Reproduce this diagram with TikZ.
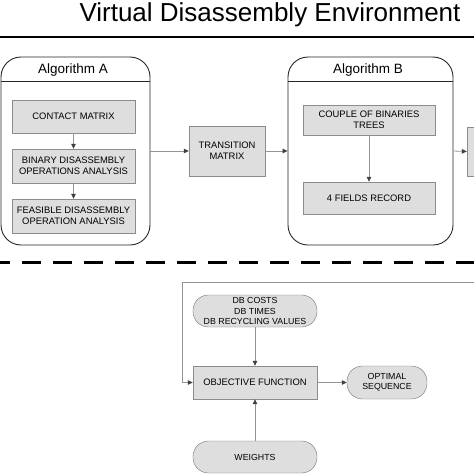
\documentclass[tikz,border=0pt]{standalone}
\usepackage{fontspec}
\setmainfont{Liberation Sans}
\usetikzlibrary{arrows.meta,positioning}

\begin{document}
\begin{tikzpicture}[
  x=1pt,y=-1pt,
  >={Triangle[length=5pt,width=4.5pt,color=black!75]},
  box/.style={draw=black!45,fill=black!13,minimum width=#1,minimum height=33pt,
    align=center,inner sep=1pt,font=\fontsize{9.4}{11}\selectfont},
  box/.default=123pt,
  term/.style={draw=black!55,fill=black!13,rounded corners=15.5pt,minimum width=#1,
    minimum height=32pt,align=center,inner sep=1pt,font=\fontsize{8.8}{10.5}\selectfont},
  term/.default=124pt,
  container/.style={draw=black!85,line width=0.9pt,rounded corners=20pt,
    minimum width=#1,minimum height=188pt},
  flow/.style={->,draw=black!42,line width=0.8pt},
  head/.style={font=\fontsize{13.5}{15}\selectfont}]

  \useasboundingbox (0,0) rectangle (474,474);
  \clip (0,0) rectangle (474,474);

  % title and separators
  \node[anchor=base,font=\fontsize{26}{30}\selectfont] (title) at (270,21)
    {Virtual Disassembly Environment};
  \draw[black,line width=2.5pt] (-5,37) -- (480,37);
  \draw[black,line width=3pt,dash pattern=on 19pt off 12pt,dash phase=9pt]
    (0,262) -- (480,262);

  % ---- containers ----
  \node[container=149pt] (algA) at (75.5,151) {};
  \node[container=165pt] (algB) at (370.5,151) {};
  \draw[black!85,line width=0.9pt] ([yshift=-25pt]algA.north west) -- ([yshift=-25pt]algA.north east);
  \draw[black!85,line width=0.9pt] ([yshift=-25pt]algB.north west) -- ([yshift=-25pt]algB.north east);
  \node[head] (algAhead) at (73,70) {Algorithm A};
  \node[head] (algBhead) at (368,70) {Algorithm B};

  % ---- algorithm A ----
  \node[box] (contact) at (73.5,116.5) {CONTACT MATRIX};
  \node[box,minimum height=34pt] (binary) at (73.5,166) {BINARY DISASSEMBLY\\OPERATIONS ANALYSIS};
  \node[box,minimum height=34pt] (feasible) at (73.5,216) {FEASIBLE DISASSEMBLY\\OPERATION ANALYSIS};

  % ---- middle and algorithm B ----
  \node[box=76pt,minimum height=50pt] (trans) at (227,151) {TRANSITION\\MATRIX};
  \node[box=132pt,minimum height=30pt] (couple) at (369,120) {COUPLE OF BINARIES\\TREES};
  \node[box=132pt,minimum height=32pt] (fields) at (369,198) {4 FIELDS RECORD};
  \node[box=76pt,minimum height=49pt] (outbox) at (505,151.5) {};

  % ---- lower part ----
  \node[term] (dbcosts) at (255,311) {DB COSTS\\DB TIMES\\DB RECYCLING VALUES};
  \node[box=124pt] (obj) at (255,382.5) {OBJECTIVE FUNCTION};
  \node[term=80pt,minimum height=33pt] (optimal) at (387,382.5) {OPTIMAL\\SEQUENCE};
  \node[term] (weights) at (255,457) {WEIGHTS};
  \coordinate (fbk) at (182,282);

  % ---- flows ----
  \draw[flow] (contact) -- (binary);
  \draw[flow] (binary) -- (feasible);
  \draw[flow] (algA.east) -- (trans.west);
  \draw[flow] (trans.west -| trans.east) -- (algB.west);
  \draw[flow] (couple) -- (fields);
  \draw[flow] (algB.east) -- (outbox.west);
  \draw[flow] (outbox.south) |- (fbk) |- (obj.west);
  \draw[flow] (dbcosts) -- (obj);
  \draw[flow] (weights) -- (obj);
  \draw[flow] (obj) -- (optimal);
\end{tikzpicture}
\end{document}
